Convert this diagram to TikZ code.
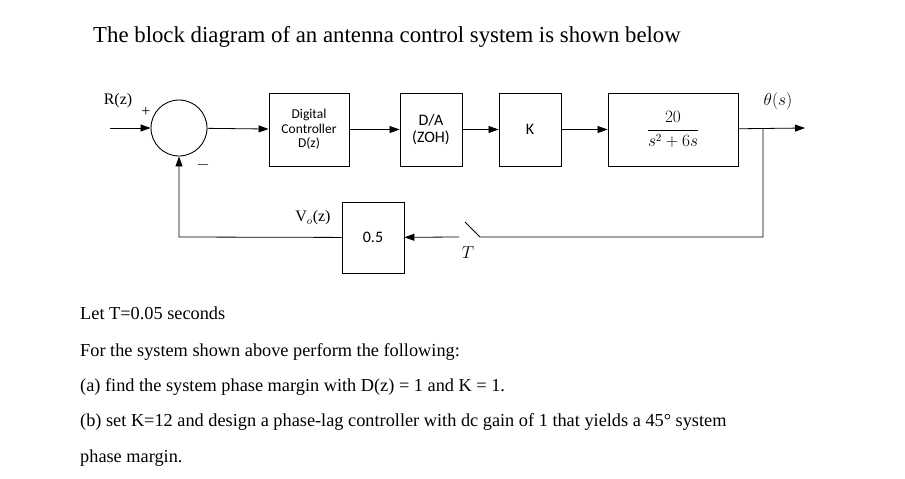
\documentclass[tikz,border=0pt]{standalone}
\usepackage{fontspec}
\setmainfont{Liberation Serif}
\newfontfamily\carl{Carlito}
\usetikzlibrary{arrows.meta}
\begin{document}
\begin{tikzpicture}[x=1pt,y=-1pt,
  blk/.style={draw,line width=0.9pt,inner sep=0pt,font=\carl\fontsize{13.5}{14.5}\selectfont,align=center},
  ln/.style={line width=0.8pt},
  arr/.style={ln,-{Triangle[length=10pt,width=7pt]}},
  lab/.style={font=\fontsize{16}{17}\selectfont},
  txt/.style={anchor=west,inner sep=0pt,font=\fontsize{18.3}{20}\selectfont}]
\useasboundingbox (0,0) rectangle (905,479);
\node[anchor=west,inner sep=0pt,font=\fontsize{22.8}{25}\selectfont] (title) at (93,37) {The block diagram of an antenna control system is shown below};
\node[draw,circle,line width=0.9pt,minimum size=56pt,inner sep=0pt] (sum) at (179,128) {};
\coordinate (in) at (110,128);
\node[blk,minimum width=80pt,minimum height=73pt] (dc) at (309,129.5) {Digital\\Controller\\D(z)};
\node[blk,minimum width=62pt,minimum height=73pt,font=\carl\fontsize{16}{17}\selectfont] (da) at (431,129.5) {D/A\\(ZOH)};
\node[blk,minimum width=62pt,minimum height=73pt,font=\carl\fontsize{16}{17}\selectfont] (k) at (530,129.5) {K};
\node[blk,minimum width=130pt,minimum height=73pt,font=\fontsize{16}{17}\selectfont] (g) at (673,129.5) {$\displaystyle\frac{20}{s^2+6s}$};
\node[blk,minimum width=62pt,minimum height=71pt,font=\carl\fontsize{16}{17}\selectfont] (h) at (373,237.5) {0.5};
\coordinate (br) at (763,128);
\coordinate (out) at (805,128);
\coordinate (fb) at (763,237);
\coordinate (sw1) at (480,237);
\coordinate (sw2) at (465,222);
\coordinate (sw3) at (459,237);
\coordinate (cor) at (179,237);
\draw[arr] (in) -- (sum);
\draw[arr] (sum) -- (dc);
\draw[arr] (dc) -- (da);
\draw[arr] (da) -- (k);
\draw[arr] (k) -- (g);
\draw[arr] (g) -- (out);
\draw[ln] (br) -- (fb) -- (sw1) -- (sw2);
\draw[arr] (sw3) -- (h);
\draw[arr] (h) -- (cor) -- (sum);
\node[lab] (rl) at (118,101) {R(z)};
\node[lab] (pl) at (146,112) {+};
\node[lab] (mi) at (203,165) {$-$};
\node[lab] (th) at (778,101) {$\theta(s)$};
\node[lab] (vo) at (313,218) {V$_o$(z)};
\node[lab] (tl) at (468,253) {$T$};
\node[txt] (l1) at (80,313) {Let T=0.05 seconds};
\node[txt] (l2) at (80,352) {For the system shown above perform the following:};
\node[txt] (l3) at (80,387) {(a) find the system phase margin with D(z) = 1 and K = 1.};
\node[txt] (l4) at (80,422) {(b) set K=12 and design a phase-lag controller with dc gain of 1 that yields a 45° system};
\node[txt] (l5) at (80,458) {phase margin.};
\end{tikzpicture}
\end{document}
